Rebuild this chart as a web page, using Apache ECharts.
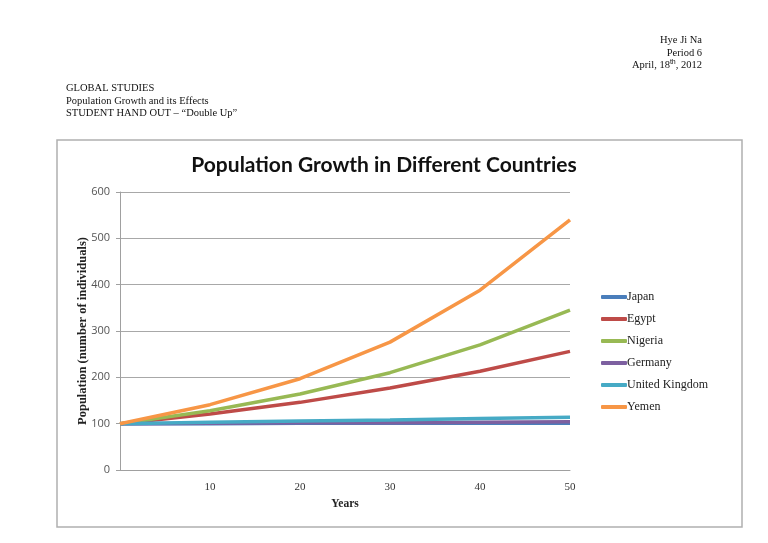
<!DOCTYPE html>
<html>
<head>
<meta charset="utf-8">
<script src="https://cdn.jsdelivr.net/npm/echarts@6/dist/echarts.min.js"></script>
<style>
  html, body { margin: 0; padding: 0; background: #fff; }
  #main { width: 768px; height: 543px; }
</style>
</head>
<body>
<div id="main"></div>
<script>
const years = ['0', '10', '20', '30', '40', '50'];
const countries = ['Japan', 'Egypt', 'Nigeria', 'Germany', 'United Kingdom', 'Yemen'];
const colors = ['#4a7ebb', '#be4b48', '#98b954', '#7d60a0', '#46aac5', '#f79646'];

const japan = [100, 100, 101, 101, 101, 101];
const egypt = [100, 121, 146, 177, 213, 256];
const nigeria = [100, 128, 164, 210, 270, 345];
const germany = [100, 101, 102, 102, 103, 104];
const uk = [100, 103, 106, 108, 111, 114];
const yemen = [100, 141, 197, 276, 388, 540];

const seriesData = [japan, egypt, nigeria, germany, uk, yemen];

const serif = '"Liberation Serif", "DejaVu Serif", serif';
const sans = '"Open Sans", "Liberation Sans", sans-serif';

const chart = echarts.init(document.getElementById('main'));

chart.setOption({
    animation: false,
    backgroundColor: '#fff',
    title: {
        text: 'Population Growth in Different Countries',
        left: 'center',
        top: 150,
        textStyle: { fontFamily: 'Lato, ' + sans, fontWeight: 'bold', fontSize: 21, color: '#111' }
    },
    graphic: [
        {
            type: 'rect',
            shape: { x: 57, y: 140, width: 685, height: 387 },
            style: { fill: 'none', stroke: '#b0b0b0', lineWidth: 1.5 },
            silent: true
        },
        {
            type: 'text', x: 702, y: 34,
            style: {
                text: 'Hye Ji Na\nPeriod 6\nApril, 18{sup|th}, 2012',
                align: 'right',
                font: '10.5px ' + serif,
                fill: '#111',
                lineHeight: 12.5,
                rich: { sup: { fontSize: 7, verticalAlign: 'top', lineHeight: 12.5 } }
            }
        },
        {
            type: 'text', x: 66, y: 82,
            style: {
                text: 'GLOBAL STUDIES\nPopulation Growth and its Effects\nSTUDENT HAND OUT – \u201cDouble Up\u201d',
                font: '10.5px ' + serif,
                fill: '#111',
                lineHeight: 12.5
            }
        }
    ],
    legend: {
        orient: 'vertical',
        left: 596,
        top: 286,
        itemWidth: 26,
        itemHeight: 4,
        itemGap: 10,
        icon: 'roundRect',
        data: countries,
        textStyle: { fontFamily: serif, fontSize: 12, color: '#222', padding: [0, 0, 0, -5] }
    },
    grid: { left: 120, right: 198, top: 192, bottom: 73 },
    xAxis: {
        type: 'category',
        data: years,
        boundaryGap: false,
        name: 'Years',
        nameLocation: 'middle',
        nameGap: 26,
        nameTextStyle: { fontFamily: serif, fontWeight: 'bold', fontSize: 11.5, color: '#222' },
        axisLine: { lineStyle: { color: '#a0a0a0', width: 1 } },
        axisTick: { show: false },
        axisLabel: {
            margin: 12,
            fontFamily: serif, fontSize: 11, color: '#333',
            formatter: v => (v === '0' ? '' : v)
        }
    },
    yAxis: {
        type: 'value',
        min: 0,
        max: 600,
        interval: 100,
        name: 'Population (number of individuals)',
        nameLocation: 'middle',
        nameGap: 31,
        nameMoveOverlap: false,
        nameTextStyle: { fontFamily: serif, fontWeight: 'bold', fontSize: 12.5, color: '#222' },
        axisLine: { show: true, lineStyle: { color: '#a0a0a0', width: 1 } },
        axisTick: { show: true, length: 4, lineStyle: { color: '#a0a0a0' } },
        axisLabel: { margin: 10, fontFamily: sans, fontSize: 11, color: '#555' },
        splitLine: { lineStyle: { color: '#a8a8a8', width: 1 } }
    },
    series: countries.map((name, i) => ({
        name: name,
        type: 'line',
        data: seriesData[i],
        symbol: 'none',
        color: colors[i],
        lineStyle: { width: 3.5, color: colors[i] },
        z: i === 0 ? 1 : 2
    }))
});
</script>
</body>
</html>
